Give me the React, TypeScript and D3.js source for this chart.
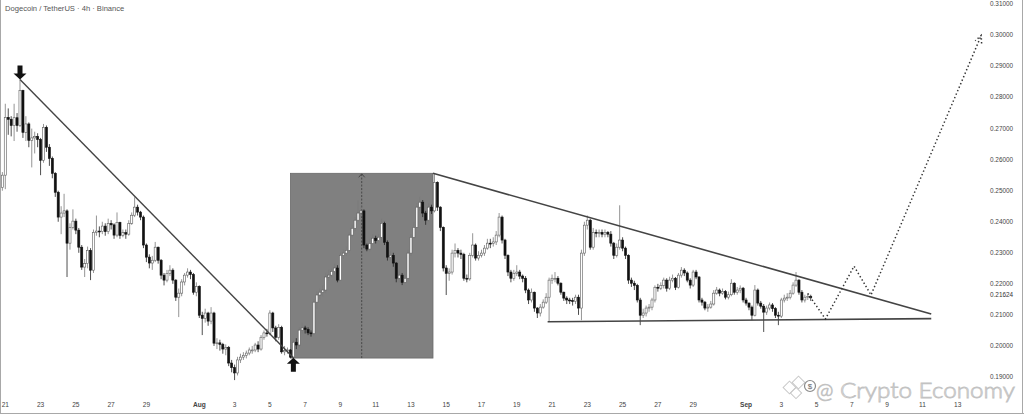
import React from 'react';
import * as d3 from 'd3';

const W = 1024;
const H = 414;

// 4h candles starting 2025-07-20 20:00 UTC; prices in thousandths of USDT
const candleStart = '2025-07-20T20:00:00Z';
const candleHours = 4;
const firstOpen = 251;

const closes = [
  255, 273.6, 273, 271, 273.5, 271, 282.3, 268.8, 271.5, 266.2,
  267, 267.5, 266.5, 259.8, 270.4, 264, 260.4, 255.6, 249.5, 241.5,
  242.8, 243.5, 233.1, 238.2, 240.2, 237.3, 231.8, 225.4, 226.5, 230.8,
  224.4, 236.6, 237, 236.8, 238.6, 236.8, 239.5, 239, 235.7, 239.8,
  235.6, 236.5, 236, 239.5, 242.1, 244.7, 243.1, 241.5, 232.5, 228.6,
  226.7, 227.6, 231.8, 227.6, 222.8, 221.2, 223.4, 224.4, 221.2, 215.7,
  217, 220.6, 222.8, 223.8, 223, 217.3, 219.2, 209.9, 208.9, 210.6,
  208, 210.6, 200.9, 201, 200.5, 199, 199.5, 194.5, 193, 191.3,
  195.5, 196.4, 197, 197.7, 198.7, 198.7, 200.3, 199, 202.8, 204.2,
  204, 210.6, 205.8, 202.8, 206, 198.1, 198.5, 198.7, 196.4, 201.2,
  200.3, 205.1, 205.8, 205.3, 204.2, 204, 214.1, 216.4, 217.3, 218,
  222.2, 222.8, 224, 225.1, 221.2, 229.2, 229.9, 230.8, 235.7, 237.9,
  240.5, 242.8, 243.5, 232.5, 231.2, 233, 234.7, 234, 235, 239.5,
  233.4, 228.6, 229.2, 226.7, 221.8, 222.8, 220.5, 221.8, 229.9, 235,
  238.2, 244.7, 246.3, 242.8, 240.5, 244.7, 243.5, 252.7, 244.7, 238.2,
  225.1, 223.4, 223.8, 229.9, 230.8, 229.9, 229.5, 221.8, 221.6, 229.2,
  232.5, 228.3, 229.2, 229.9, 231.5, 233.1, 233, 233.5, 235.7, 241.5,
  234.1, 229.2, 223.8, 221.8, 223.4, 223.8, 222.5, 221.8, 218, 214.8,
  217.3, 212.2, 210.6, 212.5, 214.1, 215.7, 221.2, 221.8, 221.8, 220.2,
  217.3, 215.4, 214.8, 214.6, 214.4, 215.7, 212.2, 229.9, 238.9, 240.5,
  231.8, 236.6, 236.3, 236.6, 236, 236.6, 236, 233.1, 229.2, 231.8,
  234.1, 231.5, 229.2, 221.2, 220.2, 219.5, 214.8, 209.9, 210.6, 212.2,
  212.5, 214.8, 218.9, 218.6, 219.5, 221.2, 218.6, 221.2, 221.8, 218.9,
  222.8, 224.4, 223.5, 221.2, 219.6, 223.8, 222.2, 214.8, 214.1, 212.2,
  212.5, 213.5, 217, 218, 217, 217.5, 215.7, 216.5, 220.2, 217.3,
  218, 218.6, 214.8, 213.8, 212.5, 209.9, 218, 213.8, 212.8, 210.9,
  212.2, 213.2, 212, 209.9, 209.6, 214.8, 215.4, 215.7, 217, 219.6,
  221.2, 217.3, 214.8, 215.7, 216, 215.5,
];

const highs = [
  256, 278, 276.5, 274, 278, 275, 285.8, 282.5, 274, 272,
  270, 269, 268.5, 267, 271.5, 271, 265, 261, 256, 250,
  245, 249, 244, 239.5, 244, 241, 238, 232.5, 228, 232,
  231.5, 237.5, 242, 238.5, 240, 239.5, 241, 240.5, 239.5, 243,
  240, 237.5, 237.5, 240.5, 243, 247.9, 245.5, 243.5, 242, 233,
  229.5, 229, 233.5, 232, 228, 223.5, 224.5, 226, 225, 221.5,
  218.5, 221.5, 223.5, 225, 224.5, 223.5, 220.5, 219.5, 211, 212,
  211, 212.5, 211, 202.5, 202, 201, 200.5, 200, 195.5, 194,
  196.5, 197.5, 198, 198.5, 199.5, 200, 201, 201.5, 203.5, 205,
  205.5, 211.5, 211, 206.5, 207, 206.5, 200, 199.5, 199, 202,
  202.5, 206, 207.5, 206.5, 206, 205, 215, 217.5, 218.5, 219.5,
  223.5, 224.5, 225, 226.5, 226, 230, 231, 232, 236.5, 239,
  241.5, 246.9, 245, 244, 233, 234.5, 236, 235.5, 236, 241,
  240, 234, 230.5, 230, 227, 224, 223.5, 223, 231, 236,
  240, 246, 248, 247, 243.5, 246, 245.5, 255.6, 253, 245,
  238.5, 226, 225, 231, 233, 231.5, 231, 230, 223, 230,
  236.3, 233, 230.5, 231, 232.5, 234.5, 234.5, 235, 237, 242.8,
  242, 234.5, 229.5, 224.5, 224.5, 226, 224.5, 223, 222.5, 218.5,
  218.5, 217.5, 212.5, 213.5, 215, 217, 222, 223, 223.8, 222.5,
  220.5, 217.5, 216, 215.5, 215.5, 216.5, 216.5, 231, 240, 242,
  241, 238, 237.5, 237.5, 237.5, 237.5, 237, 237, 233.5, 233,
  245.3, 235, 232, 229.5, 222, 221, 220, 215.5, 212, 213,
  213.5, 215.5, 219.5, 220, 220.5, 222, 221.8, 222.3, 223, 222.2,
  223.5, 225.4, 225, 224, 221.8, 224.5, 224.5, 222.5, 215.5, 214.5,
  213.5, 214.5, 218, 219, 218.5, 218.5, 218, 217.5, 221.5, 220.5,
  219, 219.5, 219, 215.5, 214, 213, 219.6, 218.5, 214.5, 213.5,
  213, 214, 213.8, 212.5, 211, 215.5, 216.5, 217, 218, 220.5,
  223.8, 221.5, 218, 216.5, 217, 216.5,
];

const lows = [
  250, 250.5, 268, 267.5, 266, 269, 270.5, 267, 266, 264,
  257.5, 262, 264, 255, 259, 262.5, 258, 254, 248, 240,
  236, 241.5, 222.2, 231, 237.5, 236, 230, 224.5, 222.2, 225,
  221.2, 223.5, 235.5, 235, 236, 235.5, 236, 237.5, 234.5, 235,
  234.5, 235, 234.5, 235.5, 239, 241.5, 242, 240.5, 231.5, 227,
  225, 224.5, 227, 226.5, 221.5, 219.5, 220.5, 222.5, 220, 214.5,
  209.3, 216, 219.5, 222, 221.5, 216.5, 216, 209, 203.5, 207.5,
  206.5, 207, 200, 199, 198.5, 197.5, 197, 193.5, 191.5, 189,
  190.5, 194.5, 195.5, 196, 197, 197.5, 198, 198, 198.5, 202,
  203, 203.5, 204.5, 201.5, 202, 197.5, 197, 197.5, 196.1, 196.2,
  199, 199.5, 204, 204, 203.5, 203, 203.5, 212, 215, 216,
  217, 221, 222, 223, 220.5, 221, 228, 229, 230, 235,
  237, 240, 241.5, 231.5, 230.5, 230.5, 232.5, 233, 233.5, 234,
  232.5, 227.5, 227.5, 225.5, 220.5, 220.5, 219.6, 220, 221.5, 229,
  234.5, 238, 243.5, 241.5, 239, 240, 242.5, 243, 243.5, 237,
  224, 216.4, 221, 223, 228.5, 228.5, 228, 221, 220.5, 221,
  228.5, 227.5, 227.5, 228.5, 229, 231, 231.5, 232, 232.5, 235,
  233, 228, 222.5, 220.5, 221, 222.5, 221.5, 220.5, 217, 213.5,
  214, 211, 209, 209.5, 212, 213.5, 207.7, 220, 220.5, 219.5,
  216.5, 214.5, 213.5, 213.5, 213, 213.5, 210, 208.3, 229, 237.5,
  231, 231, 235, 235, 235, 235, 235, 232, 228, 228.5,
  231, 230.5, 228, 220, 219, 218, 214, 206.7, 209, 209.5,
  211, 211.5, 214, 217.5, 218, 218.5, 217.5, 218, 220.5, 218,
  218.5, 222, 222.5, 220.5, 218.5, 219, 221.5, 214, 213, 211.5,
  211, 212, 213, 216.5, 216, 216.5, 215, 215, 216, 216.5,
  216.5, 217, 214, 213, 211.5, 208.3, 209.5, 213, 212, 204.5,
  210, 211.5, 211, 209, 206.7, 209, 214, 214.5, 215, 216.5,
  219, 216.5, 214, 214, 214.8, 214.5,
];

const priceTicks = [0.19, 0.2, 0.21, 0.22, 0.23, 0.24, 0.25, 0.26, 0.27, 0.28, 0.29, 0.3, 0.31];
const lastPrice = 0.21624;

const dateTicks = [
  '2025-07-21', '2025-07-23', '2025-07-25', '2025-07-27', '2025-07-29', '2025-08-01',
  '2025-08-03', '2025-08-05', '2025-08-07', '2025-08-09', '2025-08-11', '2025-08-13',
  '2025-08-15', '2025-08-17', '2025-08-19', '2025-08-21', '2025-08-23', '2025-08-25',
  '2025-08-27', '2025-08-29', '2025-09-01', '2025-09-03', '2025-09-05', '2025-09-07',
  '2025-09-09', '2025-09-11', '2025-09-13',
];
const dateLabels = [
  '21', '23', '25', '27', '29', 'Aug', '3', '5', '7', '9', '11', '13', '15', '17', '19',
  '21', '23', '25', '27', '29', 'Sep', '3', '5', '7', '9', '11', '13',
];

const downTrend = [
  { t: '2025-07-21T20:00:00Z', p: 0.2858 },
  { t: '2025-08-06T08:00:00Z', p: 0.1962 },
];
const rangeBox = { t0: '2025-08-06T04:00:00Z', t1: '2025-08-14T06:00:00Z', p0: 0.1961, p1: 0.2556 };
const upperTri = [
  { t: '2025-08-14T06:00:00Z', p: 0.2556 },
  { t: '2025-09-11T12:00:00Z', p: 0.2103 },
];
const lowerTri = [
  { t: '2025-08-20T18:00:00Z', p: 0.2078 },
  { t: '2025-09-11T12:00:00Z', p: 0.2088 },
];
const projection = [
  { t: '2025-09-04T12:00:00Z', p: 0.2169 },
  { t: '2025-09-05T12:00:00Z', p: 0.2087 },
  { t: '2025-09-07T03:00:00Z', p: 0.2257 },
  { t: '2025-09-08T02:00:00Z', p: 0.2164 },
  { t: '2025-09-14T08:00:00Z', p: 0.3 },
];

const xScale = d3
  .scaleUtc()
  .domain([new Date('2025-07-21T00:00:00Z'), new Date('2025-09-13T00:00:00Z')])
  .range([5.3, 957.7]);
const yScale = d3.scaleLinear().domain([0.19, 0.31]).range([377, 4.4]);

const fmt = d3.format('.5f');

export default function App() {
  const t0 = new Date(candleStart).getTime();
  const candles = closes.map((c, i) => {
    const o = i === 0 ? firstOpen : closes[i - 1];
    return {
      t: new Date(t0 + i * candleHours * 3600 * 1000),
      o: o / 1000,
      c: c / 1000,
      h: highs[i] / 1000,
      l: lows[i] / 1000,
    };
  });

  const line = d3
    .line<{ t: string; p: number }>()
    .x((d) => xScale(new Date(d.t)))
    .y((d) => yScale(d.p));

  const bx0 = xScale(new Date(rangeBox.t0));
  const bx1 = xScale(new Date(rangeBox.t1));
  const by0 = yScale(rangeBox.p0);
  const by1 = yScale(rangeBox.p1);
  const bmid = (bx0 + bx1) / 2;

  const dTip = { x: xScale(new Date(downTrend[0].t)), y: yScale(downTrend[0].p) };
  const uTip = { x: xScale(new Date(downTrend[1].t)), y: yScale(downTrend[1].p) };

  const pEnd = projection[projection.length - 1];
  const pPrev = projection[projection.length - 2];
  const ex = xScale(new Date(pEnd.t));
  const ey = yScale(pEnd.p);
  const ang = Math.atan2(ey - yScale(pPrev.p), ex - xScale(new Date(pPrev.t)));
  const ah = 8;
  const a1 = { x: ex - ah * Math.cos(ang - 0.45), y: ey - ah * Math.sin(ang - 0.45) };
  const a2 = { x: ex - ah * Math.cos(ang + 0.45), y: ey - ah * Math.sin(ang + 0.45) };

  const bw = 2.1;

  return (
    <svg
      width={W}
      height={H}
      viewBox={`0 0 ${W} ${H}`}
      style={{ position: 'absolute', left: 0, top: 0, background: '#fff', display: 'block' }}
      fontFamily="'Liberation Sans', Arial, sans-serif"
    >
      <rect x={0} y={0} width={W} height={H} fill="#fff" />

      {/* watermark */}
      <g>
        <g fill="none" stroke="#c8c8c8" strokeWidth={1}>
          <rect x={785} y={383} width={9} height={9} transform="rotate(45 789.5 387.5)" />
          <rect x={794} y={378} width={9} height={9} transform="rotate(45 798.5 382.5)" />
          <rect x={792} y={389} width={8} height={8} transform="rotate(45 796 393)" />
        </g>
        <circle cx={810} cy={386} r={5.5} fill="#fff" stroke="#8a8a8a" strokeWidth={1.2} />
        <text x={810} y={389} fontSize={8} textAnchor="middle" fill="#666">$</text>
        <text
          x={816}
          y={398}
          fontSize={21}
          fontFamily="Lato, 'Open Sans', sans-serif"
          fontWeight={300}
          fill="#fff"
          stroke="#c2c2c2"
          strokeWidth={0.8}
        >
          @
        </text>
        <text
          x={840}
          y={398}
          fontSize={21}
          fontFamily="Lato, 'Open Sans', sans-serif"
          fontWeight={300}
          fill="#fff"
          stroke="#c2c2c2"
          strokeWidth={0.8}
          textLength={175}
          lengthAdjust="spacingAndGlyphs"
        >
          Crypto Economy
        </text>
      </g>

      {/* range box */}
      <rect
        x={bx0}
        y={by1}
        width={bx1 - bx0}
        height={by0 - by1}
        fill="#808080"
        stroke="#6a6a6a"
        strokeWidth={0.8}
      />
      <line x1={bmid} x2={bmid} y1={by0} y2={by1 + 1} stroke="#3a3a3a" strokeWidth={0.8} strokeDasharray="2,1.5" />
      <path d={`M${bmid - 3},${by1 + 4} L${bmid},${by1 + 0.5} L${bmid + 3},${by1 + 4}`} fill="none" stroke="#3a3a3a" strokeWidth={0.8} />

      {/* candles */}
      {candles.map((d, i) => {
        const cx = xScale(d.t);
        const up = d.c >= d.o;
        const top = yScale(Math.max(d.o, d.c));
        const bot = yScale(Math.min(d.o, d.c));
        const hgt = Math.max(bot - top, 0.9);
        return (
          <g key={i}>
            <line
              x1={cx}
              x2={cx}
              y1={yScale(d.h)}
              y2={yScale(d.l)}
              stroke={up ? '#7a7a7a' : '#222'}
              strokeWidth={0.8}
            />
            <rect
              x={cx - bw / 2}
              y={top}
              width={bw}
              height={hgt}
              fill={up ? '#ffffff' : '#111111'}
              stroke={up ? '#5e5e5e' : '#111111'}
              strokeWidth={0.6}
            />
          </g>
        );
      })}

      {/* trend lines */}
      <path d={line(downTrend) || ''} fill="none" stroke="#444" strokeWidth={1.4} />
      <path d={line(upperTri) || ''} fill="none" stroke="#444" strokeWidth={1.6} />
      <path d={line(lowerTri) || ''} fill="none" stroke="#444" strokeWidth={1.6} />

      {/* projection */}
      <path
        d={line(projection) || ''}
        fill="none"
        stroke="#333"
        strokeWidth={1.5}
        strokeDasharray="1.4,2.4"
      />
      <path
        d={`M${a1.x},${a1.y} L${ex},${ey} L${a2.x},${a2.y}`}
        fill="none"
        stroke="#333"
        strokeWidth={1.5}
        strokeDasharray="1.4,2.4"
      />

      {/* arrows */}
      <path
        d={`M${dTip.x - 2.5},${dTip.y - 14} h5 v8 h4 L${dTip.x},${dTip.y} L${dTip.x - 6.5},${dTip.y - 6} h4 Z`}
        fill="#111"
      />
      <path
        d={`M${uTip.x - 2.5},${uTip.y + 14} h5 v-8 h4 L${uTip.x},${uTip.y} L${uTip.x - 6.5},${uTip.y + 6} h4 Z`}
        fill="#111"
      />

      {/* title */}
      <text x={5} y={10.5} fontSize={7.6} fill="#555">
        Dogecoin / TetherUS · 4h · Binance
      </text>

      {/* price axis */}
      {priceTicks.map((p) => (
        <text key={p} x={990} y={yScale(p)} dy="0.3em" fontSize={6.4} fill="#444">
          {fmt(p)}
        </text>
      ))}
      <text x={990} y={yScale(lastPrice)} dy="0.3em" fontSize={6.4} fill="#333">
        {fmt(lastPrice)}
      </text>

      {/* date axis */}
      {dateTicks.map((d, i) => {
        const lbl = dateLabels[i];
        const bold = lbl === 'Aug' || lbl === 'Sep';
        return (
          <text
            key={d}
            x={xScale(new Date(d + 'T00:00:00Z'))}
            y={407}
            fontSize={6.6}
            textAnchor="middle"
            fill="#444"
            fontWeight={bold ? 700 : 400}
          >
            {lbl}
          </text>
        );
      })}

      {/* frame */}
      <line x1={0.5} x2={0.5} y1={0} y2={H} stroke="#a8a8a8" strokeWidth={1} />
      <line x1={W - 1.5} x2={W - 1.5} y1={0} y2={H} stroke="#a8a8a8" strokeWidth={1} />
      <line x1={0} x2={W} y1={H - 0.5} y2={H - 0.5} stroke="#a8a8a8" strokeWidth={1} />
    </svg>
  );
}
